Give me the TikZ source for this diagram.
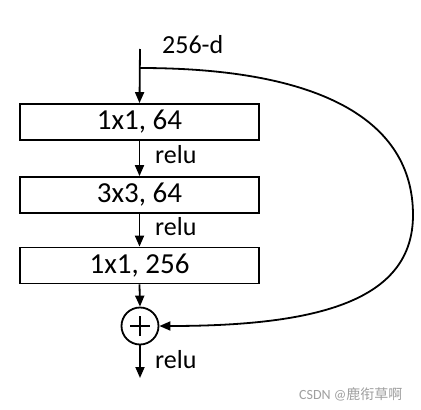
\documentclass[tikz,border=0pt]{standalone}
\usepackage{fontspec}
\setmainfont{Carlito}
\newfontfamily\cjk{Noto Sans CJK SC}
\usetikzlibrary{arrows.meta}
\begin{document}
\begin{tikzpicture}[x=1pt,y=-1pt,
  blk/.style={draw,line width=1.8pt,minimum width=239pt,minimum height=36pt,inner sep=0pt,font=\fontsize{29}{31}\selectfont},
  lbl/.style={font=\fontsize{26}{28}\selectfont,inner sep=0pt,anchor=west},
  arr/.style={line width=1.8pt,-{Triangle[length=11pt,width=9pt]}},
  sumnode/.style={draw,circle,line width=1.8pt,minimum size=37pt,inner sep=0pt,
    path picture={\draw[line width=1.8pt] ([xshift=-10pt]path picture bounding box.center) -- ([xshift=10pt]path picture bounding box.center);
                  \draw[line width=1.8pt] ([yshift=-10pt]path picture bounding box.center) -- ([yshift=10pt]path picture bounding box.center);}}]
\useasboundingbox (0,0) rectangle (421,410);
\fill[white] (0,0) rectangle (421,410);
\coordinate (in) at (140,49);
\coordinate (br) at (140,68);
\coordinate (out) at (140,378);
\node[blk] (b1) at (139.5,122) {1x1, 64};
\node[blk] (b2) at (139.5,195) {3x3, 64};
\node[blk] (b3) at (139.5,265.5) {1x1, 256};
\node[sumnode] (sum) at (140,326) {};
\node[lbl] (t0) at (162,45) {256-d};
\node[lbl] (t1) at (155,155) {relu};
\node[lbl] (t2) at (155,227) {relu};
\node[lbl] (t3) at (155,360) {relu};
\node[anchor=west,inner sep=0pt,text=gray!75,font=\fontsize{14}{15}\selectfont] (wm) at (299,394) {CSDN @{\cjk 鹿衔草啊}};
\draw[arr] (in) -- (b1.north);
\draw[arr] (b1.south) -- (b2.north);
\draw[arr] (b2.south) -- (b3.north);
\draw[arr] (b3.south) -- (sum.north);
\draw[arr] (sum.south) -- (out);
\draw[arr] (br) .. controls (320,68) and (413,120) .. (413,215)
  .. controls (413,300) and (320,326) .. (sum.east);
\end{tikzpicture}
\end{document}
